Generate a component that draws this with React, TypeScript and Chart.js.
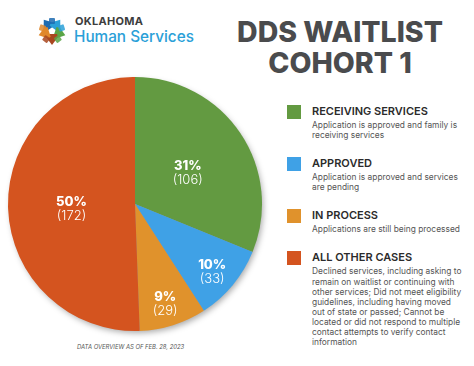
import React, { useEffect, useRef } from "react";
import { Chart, registerables } from "chart.js";

Chart.register(...registerables);

const categories = ["RECEIVING SERVICES", "APPROVED", "IN PROCESS", "ALL OTHER CASES"];
const counts = [106, 33, 29, 172];
const percentLabels = ["31%", "10%", "9%", "50%"];
const descriptions = [
  ["Application is approved and family is", "receiving services"],
  ["Application is approved and services", "are pending"],
  ["Applications are still being processed"],
  [
    "Declined services, including asking to",
    "remain on waitlist or continuing with",
    "other services; Did not meet eligibility",
    "guidelines, including having moved",
    "out of state or passed; Cannot be",
    "located or did not respond to multiple",
    "contact attempts to verify contact",
    "information",
  ],
];
const colors = ["#639a41", "#3fa1e6", "#e0922c", "#d4541f"];

const titleLines = ["DDS WAITLIST", "COHORT 1"];
const footnote = "DATA OVERVIEW AS OF FEB. 28, 2023";

const FONT = "Inter, 'Open Sans', sans-serif";

const shadowPlugin = {
  id: "pieShadow",
  beforeDatasetsDraw(chart: any) {
    const meta = chart.getDatasetMeta(0);
    const arc = meta.data[0];
    if (!arc) return;
    const ctx = chart.ctx;
    ctx.save();
    ctx.beginPath();
    ctx.arc(arc.x, arc.y, arc.outerRadius - 1, 0, Math.PI * 2);
    ctx.shadowColor = "rgba(0,0,0,0.35)";
    ctx.shadowBlur = 6;
    ctx.shadowOffsetX = 2;
    ctx.shadowOffsetY = 3;
    ctx.fillStyle = "#999";
    ctx.fill();
    ctx.restore();
  },
};

const labelPlugin = {
  id: "sliceLabels",
  afterDatasetsDraw(chart: any) {
    const meta = chart.getDatasetMeta(0);
    const data = chart.data.datasets[0].data as number[];
    const total = data.reduce((a, b) => a + b, 0);
    const ctx = chart.ctx;
    meta.data.forEach((el: any, i: number) => {
      const { x, y, startAngle, endAngle, outerRadius } = el.getProps(
        ["x", "y", "startAngle", "endAngle", "outerRadius"],
        true
      );
      const mid = (startAngle + endAngle) / 2;
      const share = data[i] / total;
      const frac = share > 0.2 ? 0.5 : 0.79;
      const px = x + Math.cos(mid) * outerRadius * frac;
      const py = y + Math.sin(mid) * outerRadius * frac + 4;
      ctx.save();
      ctx.fillStyle = "#ffffff";
      ctx.textAlign = "center";
      ctx.textBaseline = "middle";
      ctx.font = `800 13px ${FONT}`;
      ctx.fillText(percentLabels[i], px, py - 7);
      ctx.font = `300 13px ${FONT}`;
      ctx.fillText(`(${data[i]})`, px, py + 7);
      ctx.restore();
    });
  },
};

function Logo() {
  const petals = [
    { a: -126, c: "#1d6bb0" },
    { a: -54, c: "#2aa0d8" },
    { a: 18, c: "#5aa546" },
    { a: 90, c: "#a8461f" },
    { a: 162, c: "#e0882a" },
  ];
  return (
    <svg width="34" height="36" viewBox="-17 -18 34 36" style={{ position: "absolute", left: 35, top: 13 }}>
      {petals.map((p, i) => (
        <g key={i} transform={`rotate(${p.a + 90})`}>
          <path d="M -6 -6 L 0 -14 L 6 -6 L 5 -3 L -5 -3 Z" fill={p.c} />
        </g>
      ))}
      {petals.map((p, i) => (
        <g key={"b" + i} transform={`rotate(${p.a + 126})`}>
          <rect x="-3" y="-13" width="6" height="6" rx="1" fill={p.c} opacity="0.85" />
        </g>
      ))}
    </svg>
  );
}

export default function App() {
  const canvasRef = useRef<HTMLCanvasElement | null>(null);

  useEffect(() => {
    document.body.style.margin = "0";
    const chart = new Chart(canvasRef.current as HTMLCanvasElement, {
      type: "pie",
      data: {
        labels: categories,
        datasets: [
          {
            data: counts,
            backgroundColor: colors,
            borderWidth: 0,
          },
        ],
      },
      options: {
        animation: false,
        responsive: true,
        maintainAspectRatio: false,
        layout: { padding: 8 },
        plugins: {
          legend: { display: false },
          tooltip: { enabled: false },
        },
      },
      plugins: [shadowPlugin, labelPlugin],
    });
    return () => chart.destroy();
  }, []);

  return (
    <div
      style={{
        position: "fixed",
        left: 0,
        top: 0,
        width: 474,
        height: 366,
        background: "#ffffff",
        overflow: "hidden",
        fontFamily: FONT,
      }}
    >
      <Logo />
      <div
        style={{
          position: "absolute",
          left: 75,
          top: 15,
          fontSize: 11,
          fontWeight: 700,
          color: "#3d3d3d",
          letterSpacing: 0.3,
          lineHeight: "13px",
        }}
      >
        OKLAHOMA
      </div>
      <div
        style={{
          position: "absolute",
          left: 74,
          top: 27,
          fontSize: 15.3,
          fontWeight: 500,
          color: "#2aa0d8",
          lineHeight: "20px",
          whiteSpace: "nowrap",
        }}
      >
        Human Services
      </div>

      <div
        style={{
          position: "absolute",
          left: 200,
          top: 16,
          width: 280,
          textAlign: "center",
          fontSize: 28.5,
          fontWeight: 800,
          color: "#4a4b4d",
          lineHeight: "31px",
          whiteSpace: "nowrap",
        }}
      >
        {titleLines.map((t, i) => (
          <div key={i}>{t}</div>
        ))}
      </div>

      <div style={{ position: "absolute", left: 0, top: 69, width: 270, height: 270 }}>
        <canvas ref={canvasRef} />
      </div>

      <div
        style={{
          position: "absolute",
          left: 287,
          top: 104,
          display: "flex",
          flexDirection: "column",
          gap: 16,
          whiteSpace: "nowrap",
        }}
      >
        {categories.map((c, i) => (
          <div key={c} style={{ position: "relative", paddingLeft: 25 }}>
            <div
              style={{
                position: "absolute",
                left: 0,
                top: 1,
                width: 14,
                height: 14,
                background: colors[i],
              }}
            />
            <div
              style={{
                fontSize: 11,
                fontWeight: 600,
                color: "#2b2b2b",
                lineHeight: "15px",
              }}
            >
              {c}
            </div>
            <div style={{ fontSize: 8.4, color: "#555555", lineHeight: "10.1px", marginTop: 1 }}>
              {descriptions[i].map((d, j) => (
                <div key={j}>{d}</div>
              ))}
            </div>
          </div>
        ))}
      </div>

      <div
        style={{
          position: "absolute",
          left: 77,
          top: 343,
          fontSize: 5.9,
          fontStyle: "italic",
          color: "#555555",
          lineHeight: "8px",
          whiteSpace: "nowrap",
        }}
      >
        {footnote}
      </div>
    </div>
  );
}
